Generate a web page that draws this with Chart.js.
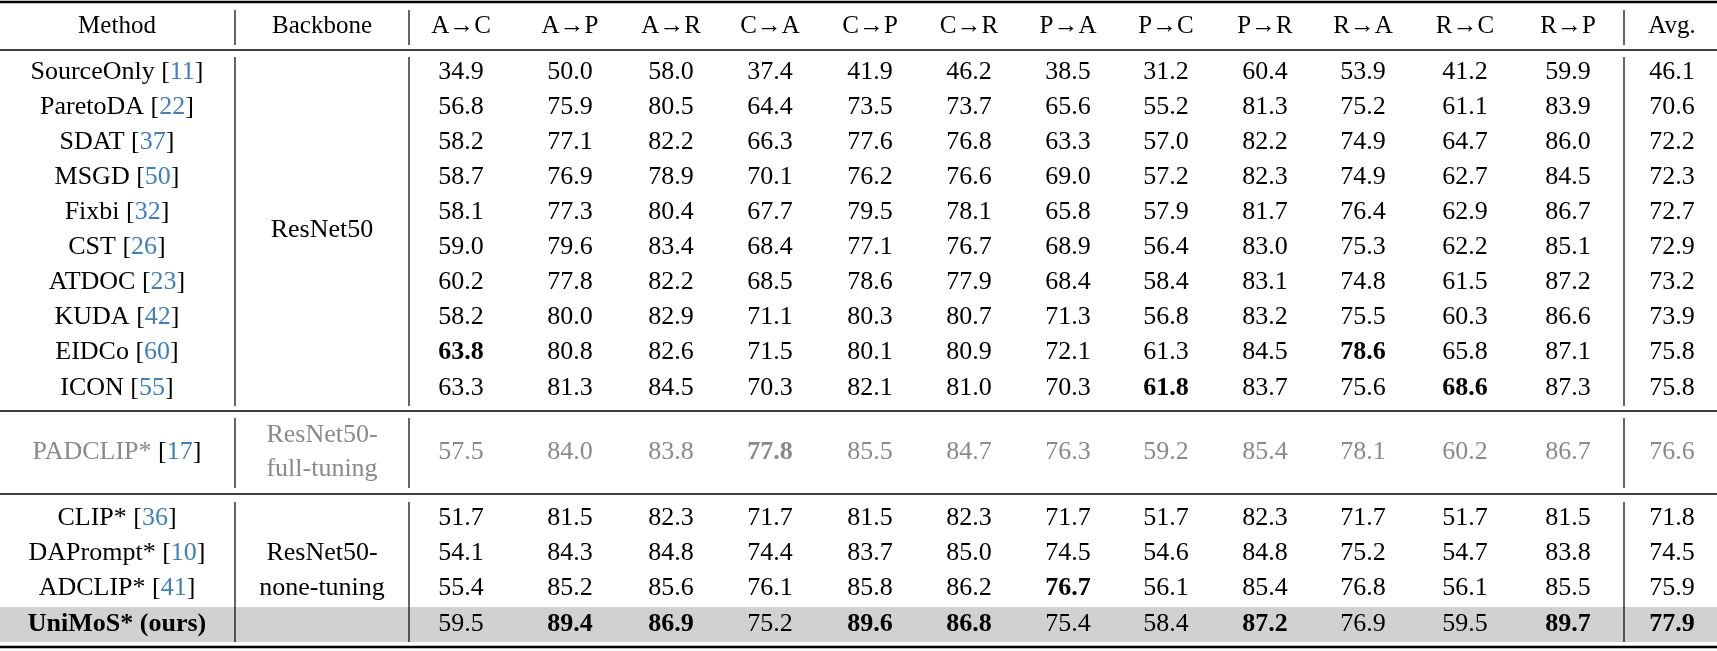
<!DOCTYPE html>
<html>
<head>
<meta charset="utf-8">
<script src="https://cdn.jsdelivr.net/npm/chart.js@4/dist/chart.umd.min.js"></script>
<style>
  body { margin: 0; background: #fff; }
  canvas { display: block; }
</style>
</head>
<body>
<canvas id="table_chart" width="1717" height="651"></canvas>
<script>
// table content
var tasks = ["A→C", "A→P", "A→R", "C→A", "C→P", "C→R", "P→A", "P→C", "P→R", "R→A", "R→C", "R→P", "Avg."];
var methods = ["SourceOnly", "ParetoDA", "SDAT", "MSGD", "Fixbi", "CST", "ATDOC", "KUDA", "EIDCo", "ICON",
               "PADCLIP*", "CLIP*", "DAPrompt*", "ADCLIP*", "UniMoS* (ours)"];
var cites = ["11", "22", "37", "50", "32", "26", "23", "42", "60", "55", "17", "36", "10", "41", ""];

var sourceOnly = [34.9, 50.0, 58.0, 37.4, 41.9, 46.2, 38.5, 31.2, 60.4, 53.9, 41.2, 59.9, 46.1];
var paretoDA   = [56.8, 75.9, 80.5, 64.4, 73.5, 73.7, 65.6, 55.2, 81.3, 75.2, 61.1, 83.9, 70.6];
var sdat       = [58.2, 77.1, 82.2, 66.3, 77.6, 76.8, 63.3, 57.0, 82.2, 74.9, 64.7, 86.0, 72.2];
var msgd       = [58.7, 76.9, 78.9, 70.1, 76.2, 76.6, 69.0, 57.2, 82.3, 74.9, 62.7, 84.5, 72.3];
var fixbi      = [58.1, 77.3, 80.4, 67.7, 79.5, 78.1, 65.8, 57.9, 81.7, 76.4, 62.9, 86.7, 72.7];
var cst        = [59.0, 79.6, 83.4, 68.4, 77.1, 76.7, 68.9, 56.4, 83.0, 75.3, 62.2, 85.1, 72.9];
var atdoc      = [60.2, 77.8, 82.2, 68.5, 78.6, 77.9, 68.4, 58.4, 83.1, 74.8, 61.5, 87.2, 73.2];
var kuda       = [58.2, 80.0, 82.9, 71.1, 80.3, 80.7, 71.3, 56.8, 83.2, 75.5, 60.3, 86.6, 73.9];
var eidco      = [63.8, 80.8, 82.6, 71.5, 80.1, 80.9, 72.1, 61.3, 84.5, 78.6, 65.8, 87.1, 75.8];
var icon       = [63.3, 81.3, 84.5, 70.3, 82.1, 81.0, 70.3, 61.8, 83.7, 75.6, 68.6, 87.3, 75.8];
var padclip    = [57.5, 84.0, 83.8, 77.8, 85.5, 84.7, 76.3, 59.2, 85.4, 78.1, 60.2, 86.7, 76.6];
var clip       = [51.7, 81.5, 82.3, 71.7, 81.5, 82.3, 71.7, 51.7, 82.3, 71.7, 51.7, 81.5, 71.8];
var daprompt   = [54.1, 84.3, 84.8, 74.4, 83.7, 85.0, 74.5, 54.6, 84.8, 75.2, 54.7, 83.8, 74.5];
var adclip     = [55.4, 85.2, 85.6, 76.1, 85.8, 86.2, 76.7, 56.1, 85.4, 76.8, 56.1, 85.5, 75.9];
var unimos     = [59.5, 89.4, 86.9, 75.2, 89.6, 86.8, 75.4, 58.4, 87.2, 76.9, 59.5, 89.7, 77.9];

var rows = [sourceOnly, paretoDA, sdat, msgd, fixbi, cst, atdoc, kuda, eidco, icon, padclip, clip, daprompt, adclip, unimos];

// layout (pixel units on the hidden linear scales)
var methodX = 117, backboneX = 322;
var taskX = [461, 570, 671, 770, 870, 969, 1068, 1166, 1265, 1363, 1465, 1568, 1672];
var sepX = [235, 409, 1624];
var headerY = 26;
var rowY = [72, 107, 142, 177, 212, 247, 282, 317, 352, 388, 452, 518, 553, 588, 624];

var FONT = '"Liberation Serif", "Times New Roman", serif';
var BLUE = '#3d7fc1';
var GRAY = '#8a8a8a';

// column maxima -> bold
var colMax = tasks.map(function(t, c) {
    return Math.max.apply(null, rows.map(function(r) { return r[c]; }));
});

var points = [];
rows.forEach(function(r, i) {
    r.forEach(function(v, c) { points.push({ x: taskX[c], y: rowY[i], v: v, row: i, col: c }); });
});

var tablePlugin = {
    id: 'tablePlugin',
    afterDatasetsDraw: function(chart) {
        var ctx = chart.ctx;
        var xs = chart.scales.x, ys = chart.scales.y;
        var X = function(v) { return xs.getPixelForValue(v); };
        var Y = function(v) { return ys.getPixelForValue(v); };
        ctx.save();

        function hline(y, w) {
            ctx.fillStyle = '#000';
            ctx.fillRect(X(0), Y(y) - w / 2, X(1717) - X(0), w);
        }
        function vline(x, y0, y1) {
            ctx.fillStyle = '#000';
            ctx.fillRect(X(x) - 0.6, Y(y0), 1.2, Y(y1) - Y(y0));
        }

        // highlight band for our row
        ctx.fillStyle = '#d2d1d1';
        ctx.fillRect(X(0), Y(607), X(1717) - X(0), Y(642) - Y(607));

        hline(2, 2.5);
        hline(50, 1.5);
        hline(411, 1.5);
        hline(494, 1.5);
        hline(647, 2.5);

        sepX.forEach(function(x) {
            vline(x, 10, 45);
            vline(x, 57, 406);
            vline(x, 418, 488);
            vline(x, 502, 642);
        });

        ctx.textBaseline = 'middle';
        ctx.textAlign = 'center';
        ctx.font = '25px ' + FONT;
        ctx.fillStyle = '#000';
        ctx.fillText('Method', X(methodX), Y(headerY));
        ctx.fillText('Backbone', X(backboneX), Y(headerY));
        tasks.forEach(function(t, c) { ctx.fillText(t, X(taskX[c]), Y(headerY)); });

        // method names with blue citations
        methods.forEach(function(m, i) {
            var bold = i === methods.length - 1;
            var main = bold ? m : m + ' [';
            var font = (bold ? 'bold ' : '') + '26px ' + FONT;
            ctx.font = font;
            var parts = bold ? [[m, '#000']] : [[m + ' ', i === 10 ? GRAY : '#000'], ['[', '#000'], [cites[i], BLUE], [']', '#000']];
            var total = 0;
            parts.forEach(function(p) { total += ctx.measureText(p[0]).width; });
            var x = X(methodX) - total / 2;
            ctx.textAlign = 'left';
            parts.forEach(function(p) {
                ctx.fillStyle = p[1];
                ctx.fillText(p[0], x, Y(rowY[i]));
                x += ctx.measureText(p[0]).width;
            });
            ctx.textAlign = 'center';
        });

        // backbones
        ctx.font = '26px ' + FONT;
        ctx.fillStyle = '#000';
        ctx.fillText('ResNet50', X(backboneX), Y(230));
        ctx.fillStyle = GRAY;
        ctx.fillText('ResNet50-', X(backboneX), Y(435));
        ctx.fillText('full-tuning', X(backboneX), Y(469));
        ctx.fillStyle = '#000';
        ctx.fillText('ResNet50-', X(backboneX), Y(553));
        ctx.fillText('none-tuning', X(backboneX), Y(588));

        // values
        var meta = chart.getDatasetMeta(0);
        meta.data.forEach(function(el, k) {
            var p = points[k];
            var bold = p.v === colMax[p.col];
            ctx.font = (bold ? 'bold ' : '') + '26px ' + FONT;
            ctx.fillStyle = p.row === 10 ? GRAY : '#000';
            ctx.fillText(p.v.toFixed(1), el.x, el.y);
        });
        ctx.restore();
    }
};

var ctxTable = document.getElementById("table_chart").getContext("2d");
var table_chart = new Chart(ctxTable, {
    type: 'scatter',
    data: {
        datasets: [{
            label: 'cells',
            data: points,
            pointRadius: 0,
            pointHoverRadius: 0
        }]
    },
    options: {
        responsive: false,
        animation: false,
        layout: { padding: 0 },
        plugins: { legend: { display: false }, tooltip: { enabled: false } },
        scales: {
            x: { type: 'linear', min: 0, max: 1717, display: false },
            y: { type: 'linear', min: 0, max: 651, reverse: true, display: false }
        }
    },
    plugins: [tablePlugin]
});
</script>
</body>
</html>
